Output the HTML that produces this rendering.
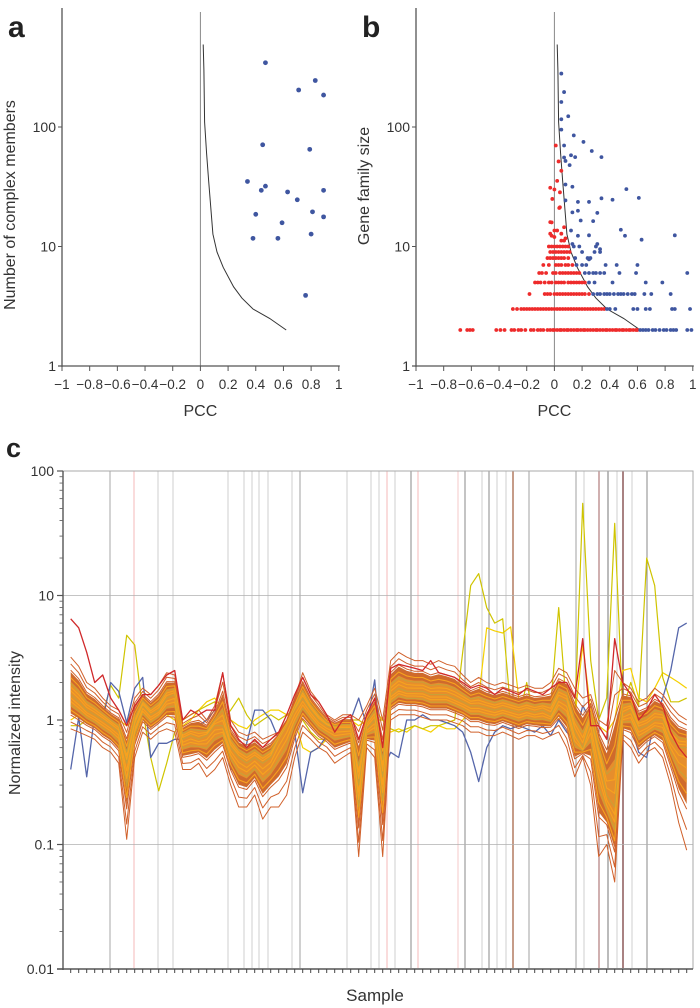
<!DOCTYPE html>
<html><head><meta charset="utf-8">
<style>
html,body{margin:0;padding:0;background:#fff;}
svg{display:block;font-family:"Liberation Sans",Arial,sans-serif;}
</style></head>
<body>
<svg id="fig" width="700" height="1008" viewBox="0 0 700 1008" xmlns="http://www.w3.org/2000/svg">
<g id="pa"></g>
<g id="pb"></g>
<g id="pc"></g>
</svg>
<script>
// ---------- data ----------
const curvePCC=[0.02,0.025,0.03,0.045,0.06,0.09,0.12,0.165,0.24,0.3,0.38,0.5,0.62];
const curveN=[490,300,110,60,35,12.7,9,6.7,4.6,3.7,3.0,2.5,2.0];
const complexPCC=[0.47,0.83,0.71,0.89,0.45,0.79,0.34,0.47,0.44,0.63,0.89,0.70,0.40,0.81,0.89,0.59,0.38,0.56,0.80,0.76];
const complexN=[345,245,204,185,71,65,35,32,29.5,28.6,29.5,24.6,18.6,19.5,17.7,15.8,11.7,11.7,12.7,3.9];
const rowN=[2,3,4,5,6,7,8,9,10];
const row2=[-0.68,-0.63,-0.61,-0.59,-0.42,-0.39,-0.36,-0.31,-0.29,-0.26,-0.24,-0.21,-0.17,-0.15,-0.12,-0.1,-0.08,-0.05,-0.03,-0.01,0.0,0.02,0.04,0.05,0.07,0.09,0.1,0.12,0.14,0.16,0.17,0.19,0.21,0.22,0.24,0.26,0.28,0.3,0.31,0.33,0.35,0.37,0.38,0.4,0.42,0.44,0.45,0.47,0.49,0.5,0.52,0.54,0.55,0.57,0.59,0.6,0.62,0.64,0.66,0.68,0.71,0.73,0.76,0.79,0.81,0.84,0.86,0.88,0.96,0.99];
const row3=[-0.3,-0.27,-0.24,-0.22,-0.2,-0.18,-0.16,-0.14,-0.12,-0.1,-0.08,-0.06,-0.04,-0.02,0,0.02,0.04,0.06,0.08,0.1,0.12,0.14,0.16,0.18,0.2,0.22,0.24,0.26,0.28,0.3,0.32,0.34,0.36,0.38,0.4,0.44,0.57,0.6,0.66,0.69,0.85,0.87,0.98];
const row4=[-0.18,-0.07,-0.05,-0.03,0,0.02,0.04,0.06,0.08,0.1,0.12,0.14,0.16,0.18,0.2,0.22,0.25,0.28,0.31,0.33,0.36,0.38,0.4,0.43,0.46,0.48,0.5,0.53,0.56,0.58,0.65,0.7,0.84];
const row5=[-0.14,-0.12,-0.1,-0.07,-0.04,-0.02,0.01,0.03,0.05,0.07,0.1,0.12,0.14,0.16,0.18,0.2,0.22,0.25,0.29,0.42,0.66,0.78];
const row6=[-0.11,-0.09,-0.06,-0.01,0.01,0.04,0.06,0.08,0.1,0.12,0.14,0.16,0.18,0.22,0.25,0.28,0.3,0.33,0.36,0.47,0.59,0.96];
const row7=[-0.08,-0.04,0.01,0.03,0.05,0.08,0.1,0.13,0.16,0.2,0.23,0.37,0.45,0.6];
const row8=[-0.05,-0.03,-0.01,0.01,0.03,0.05,0.07,0.1,0.15,0.24,0.26];
const row9=[-0.03,-0.01,0.01,0.03,0.05,0.07,0.09,0.11,0.2,0.29,0.33];
const row10=[-0.04,-0.02,0,0.02,0.04,0.06,0.08,0.1,0.14,0.18,0.3];
const famPCC=[-0.02,0,0.05,0.08,0.13,0.17,0.25,0.31,0.33,0.25,0.48,0.51,0.63,0.87,-0.02,0,0.07,0.12,0.19,0.28,0.13,0.17,0.31,0.25,0.04,0.08,0.17,0.34,0.42,0.61,0.52,0,0.04,0.08,0.13,0.02,0.05,0.11,0.08,0.03,0.15,0.07,0.12,0.34,0.27,0.01,0.07,0.21,0.14,0.05,0.1,0.05,0.05,0.07,0.05,-0.03,-0.015,0.035,-0.03,0.02,-0.03,0.05,0.07];
const famN=[12.3,12,11.2,11.7,10.5,12.3,12.4,10.5,9.5,7.8,13.8,12.3,11.4,12.4,15.9,13.6,14.5,13.6,16.5,16.3,19.3,19.9,19.1,23.6,21.3,24.3,23.6,25.3,24.6,25.5,30.2,30,28.4,33,31.6,35.4,43,48,52,51.5,56,55.6,58,56,63,70,70,75,85,95,123,116,162,196,280,31,25,21,16,13.6,12.8,12.8,11.2];
// panel c (78 samples)
const bandMid=[1.6,1.4,1.2,1.1,1.0,0.9,0.8,0.45,0.9,1.3,1.1,1.2,1.5,1.6,0.7,0.75,0.7,0.75,0.9,0.9,0.6,0.5,0.45,0.5,0.45,0.5,0.7,0.9,1.2,1.5,1.2,1.0,0.9,0.85,0.85,0.85,0.3,0.85,1.0,0.35,1.6,1.8,1.7,1.7,1.7,1.6,1.6,1.6,1.5,1.4,1.3,1.3,1.25,1.2,1.25,1.2,1.15,1.2,1.15,1.2,1.1,1.5,1.4,0.8,0.6,1.0,0.5,0.25,0.2,1.1,1.2,0.85,0.9,1.0,1.0,0.7,0.6,0.6];
const bandHigh=[3.2,2.7,2.0,1.8,1.5,1.3,1.2,0.9,1.5,1.8,1.6,1.9,2.4,2.3,1.0,1.1,1.2,1.0,1.3,2.4,1.0,0.8,0.75,0.8,0.7,0.75,0.8,1.0,1.5,2.4,1.7,1.4,1.1,1.0,1.1,1.1,1.0,1.3,1.8,1.0,3.0,3.5,3.2,3.0,3.0,2.8,3.0,2.8,2.7,2.3,2.0,2.2,2.0,1.9,2.0,1.9,1.8,1.9,1.8,1.8,2.0,2.6,2.4,1.8,1.5,1.6,1.0,0.9,2.5,2.0,1.8,1.4,1.5,1.8,1.6,1.3,1.1,1.0];
const bandLow=[0.85,0.8,0.75,0.7,0.6,0.55,0.45,0.11,0.5,0.8,0.7,0.8,0.85,0.8,0.4,0.4,0.45,0.35,0.4,0.5,0.3,0.2,0.2,0.25,0.16,0.2,0.2,0.25,0.5,0.8,0.7,0.6,0.55,0.45,0.5,0.55,0.08,0.6,0.5,0.08,1.0,1.1,1.1,1.1,1.05,1.0,1.0,1.0,0.95,0.9,0.8,0.8,0.75,0.75,0.8,0.75,0.7,0.75,0.75,0.7,0.75,0.8,0.6,0.35,0.5,0.3,0.08,0.1,0.05,0.7,0.6,0.45,0.55,0.6,0.5,0.3,0.15,0.09];
const yellowA=[0.9,0.9,1.0,1.0,1.1,1.9,1.5,4.8,4.0,1.2,0.5,0.27,0.45,0.8,1.0,1.1,1.2,1.3,1.4,1.0,1.2,1.5,1.1,0.9,1.0,1.1,1.0,1.1,1.2,1.0,0.8,0.7,0.7,0.9,1.0,1.0,1.0,0.9,1.0,1.0,0.85,0.8,0.85,0.9,0.85,0.9,0.9,0.95,1.0,3.5,12,15,8,6,6.5,1.2,1.0,2.0,1.0,1.1,1.3,8,1.2,1.0,55,3,1.0,1.5,38,1.2,2,1.3,20,12,2.2,1.4,1.4,1.5];
const yellowB=[1.0,1.1,1.0,1.1,1.2,1.1,1.0,0.9,1.0,1.0,1.0,1.1,1.1,1.0,0.9,1.0,1.2,1.4,1.5,1.2,1.0,0.9,0.85,1.0,1.1,1.2,1.2,1.1,1.0,0.6,0.55,0.6,0.7,0.8,0.9,1.0,0.9,1.0,1.2,1.0,0.8,0.85,0.8,0.9,0.85,0.8,0.9,0.85,0.85,1.0,1.2,1.5,5.5,5.2,5.0,5.6,1.5,1.0,1.0,1.1,1.1,1.0,1.2,1.0,4.0,1.2,0.9,0.8,1.0,2.5,2.6,1.5,1.4,1.8,2.4,2.2,2.0,1.8];
const blueSeries=[0.4,1.05,0.35,1.1,1.0,2.0,1.7,0.95,1.8,2.2,0.5,0.65,0.65,0.7,0.7,0.8,0.9,1.0,1.2,1.15,0.4,0.4,0.65,1.2,1.2,1.0,0.7,0.6,0.8,0.26,0.55,0.6,0.75,0.8,0.7,1.0,1.5,0.9,2.1,0.4,0.55,0.5,1.0,1.0,1.1,1.0,1.0,0.95,0.9,0.8,0.55,0.32,0.6,0.8,0.9,0.85,0.9,0.85,0.8,0.9,0.75,1.0,0.8,0.7,1.3,1.0,0.5,0.3,0.5,1.1,0.9,0.55,0.5,1.0,1.5,2.5,5.5,6.0];
const redSeries=[6.5,5.5,3.5,2.0,2.3,1.5,1.2,0.9,1.3,1.6,1.6,1.9,2.3,2.5,1.0,1.2,1.1,1.2,1.2,2.4,0.9,0.7,0.6,0.7,0.6,0.7,0.8,1.1,1.6,2.2,1.6,1.4,1.1,0.8,1.0,1.1,0.7,1.1,1.5,0.6,2.6,2.8,2.7,2.6,2.5,3.0,2.4,2.3,2.2,2.0,1.8,1.9,1.8,1.6,1.8,1.7,1.6,1.8,1.7,1.6,1.8,2.0,2.0,1.5,4.5,0.9,0.9,0.7,4.5,2.0,1.6,1.0,1.2,1.6,1.3,0.8,0.6,0.5];
const cTicks=[100,10,1,0.1,0.01];
const cTickLabels=["100","10","1","0.1","0.01"];
const pccTicks=[-1,-0.8,-0.6,-0.4,-0.2,0,0.2,0.4,0.6,0.8,1];
const pccTickLabels=["\u22121","\u22120.8","\u22120.6","\u22120.4","\u22120.2","0","0.2","0.4","0.6","0.8","1"];
const nTicks=[1,10,100];

// ---------- helpers ----------
const NS="http://www.w3.org/2000/svg";
function mk(parent,tag,attrs,text){const e=document.createElementNS(NS,tag);for(const k in attrs)e.setAttribute(k,attrs[k]);if(text!==undefined)e.textContent=text;parent.appendChild(e);return e;}
const L=Math.log10;

// ---------- panels a & b ----------
function scatterPanel(g,x0,letter,ylab,ylabY){
  const X=p=>x0+138.4*(p+1);
  const Y=n=>366-L(n)*119.5;
  let t=mk(g,'text',{x:x0-54,y:37,'font-size':30,'font-weight':'bold',fill:'#222'},letter);
  
  
  let zl=mk(g,'line',{x1:X(0),x2:X(0),y1:12,y2:366,stroke:'#888','stroke-width':1});
  
  
  let ya=mk(g,'line',{x1:x0,x2:x0,y1:8,y2:367,stroke:'#555','stroke-width':1.3});
  
  
  let xa=mk(g,'line',{x1:x0-4,x2:X(1)+1,y1:366,y2:366,stroke:'#555','stroke-width':1.3});
  
  
  nTicks.forEach(n=>{
    let tk=mk(g,'line',{x1:x0-4,x2:x0,y1:Y(n),y2:Y(n),stroke:'#555'});
    
    
    let tl=mk(g,'text',{x:x0-6,y:Y(n)+5,'font-size':14,'text-anchor':'end',fill:'#333'},String(n));
    
    
  });
  pccTicks.forEach((p,i)=>{
    let tk=mk(g,'line',{x1:X(p),x2:X(p),y1:366,y2:371,stroke:'#555'});
    
    
    let tl=mk(g,'text',{x:X(p),y:389,'font-size':13.5,'text-anchor':'middle',fill:'#333'},pccTickLabels[i]);
    
    
  });
  let xt=mk(g,'text',{x:X(0),y:416,'font-size':16,'text-anchor':'middle',fill:'#333'},'PCC');
  
  
  let yt=mk(g,'text',{x:0,y:0,'font-size':16,'text-anchor':'middle',fill:'#333',transform:`translate(${x0-47},${ylabY}) rotate(-90)`},ylab);
  
  
  let d='';
  curvePCC.forEach((p,i)=>{d+=(i?'L':'M')+X(p).toFixed(1)+','+Y(curveN[i]).toFixed(1);});
  let cv=mk(g,'path',{d:d,fill:'none',stroke:'#333','stroke-width':1});
  
  
  return {X,Y};
}
function threshold(n){
  const ln=L(n);
  for(let i=0;i<curveN.length-1;i++){
    const a=L(curveN[i]),b=L(curveN[i+1]);
    if(ln<=a&&ln>=b){return curvePCC[i]+(curvePCC[i+1]-curvePCC[i])*(a-ln)/(a-b);}
  }
  return ln>L(curveN[0])?curvePCC[0]:curvePCC[curvePCC.length-1];
}
const A=scatterPanel(document.getElementById('pa'),62,'a','Number of complex members',205);
complexPCC.forEach((p,i)=>{
  let c=mk(document.getElementById('pa'),'circle',{cx:A.X(p),cy:A.Y(complexN[i]),r:2.4,fill:'#3f56a0'});
  
  
});
const B=scatterPanel(document.getElementById('pb'),416,'b','Gene family size',186);
const rows=[row2,row3,row4,row5,row6,row7,row8,row9,row10];
const gb=document.getElementById('pb');
function famDot(p,n){
  const red=p<threshold(n);
  let c=mk(gb,'circle',{cx:B.X(p),cy:B.Y(n),r:1.9,fill:red?'#ee2b2b':'#3f56a0'});
  
  
}
rows.forEach((r,k)=>r.forEach(p=>famDot(p,rowN[k])));
famPCC.forEach((p,i)=>famDot(p,famN[i]));

// ---------- panel c ----------
const gc=document.getElementById('pc');
const CX=i=>70.7+8*i;
const CY=v=>969-(L(v)+2)*124.5;
let lc=mk(gc,'text',{x:6,y:457,'font-size':27,'font-weight':'bold',fill:'#222'},'c');


const vlines=[[110,'#c8c8c8',1.6],[134,'#f4b8b8',1],[158,'#cfcfcf',1],[173,'#cfcfcf',1],[228,'#cfcfcf',1],[244,'#cfcfcf',1],[252,'#cfcfcf',1],[259,'#cfcfcf',1],[268,'#cfcfcf',1],[292,'#cfcfcf',1],[300,'#c4c4c4',1.6],[347,'#cfcfcf',1],[371,'#cfcfcf',1],[379,'#cfcfcf',1],[387,'#f4b8b8',1],[395,'#cfcfcf',1],[411,'#888',1],[418,'#f4b8b8',1],[458,'#f4c8c8',1],[465,'#888',1],[482,'#cfcfcf',1],[489,'#888',1],[497,'#cfcfcf',1],[506,'#cfcfcf',1],[513,'#a05a3a',1.2],[529,'#c4c4c4',1.6],[576,'#c4c4c4',1.6],[584,'#cfcfcf',1],[599,'#a06060',1],[608,'#777',1],[617,'#cfcfcf',1],[623,'#703030',1.2],[632,'#cfcfcf',1],[647,'#888',1]];
vlines.forEach(v=>{
  let l=mk(gc,'line',{x1:v[0],x2:v[0],y1:471,y2:968,stroke:v[1],'stroke-width':v[2]});
  
  
});
[10,0.1].forEach(v=>{
  let l=mk(gc,'line',{x1:63,x2:693,y1:CY(v),y2:CY(v),stroke:'#b0b0b0','stroke-width':0.8});
  
  
});
let box=mk(gc,'path',{d:'M63,471 H693 V969',fill:'none',stroke:'#aaa','stroke-width':1});


function poly(arr){return arr.map((v,i)=>CX(i).toFixed(1)+','+CY(v).toFixed(1)).join(' ');}
function bandAt(f){return bandMid.map((m,i)=>{const lm=L(m);const o=f<0?lm+(lm-L(bandLow[i]))*f:lm+(L(bandHigh[i])-lm)*f;return Math.pow(10,o);});}
function drawLine(arr,color,w,name){
  let p=mk(gc,'polyline',{points:poly(arr),fill:'none',stroke:color,'stroke-width':w,'stroke-linejoin':'round'});
  
  
}
drawLine(yellowB,'#f5d000',1.2,'series-yellow-b');
drawLine(yellowA,'#cfc400',1.2,'series-yellow-a');
drawLine(blueSeries,'#5566aa',1.3,'series-blue');
function fillBetween(f1,f2,color,name){
  const a=bandAt(f1),b=bandAt(f2);
  const pts=poly(a)+' '+b.map((v,i)=>[CX(i),CY(v)]).reverse().map(q=>q[0].toFixed(1)+','+q[1].toFixed(1)).join(' ');
  let p=mk(gc,'polygon',{points:pts,fill:color});
  
  
}
fillBetween(-0.55,0.6,'#cf6a2c','band-outer');
const fracs=[-1,-0.8,-0.6,0.65,0.82,1];
fracs.forEach(f=>drawLine(bandAt(f),'#d0602a',1.0,'band-line-outer'));
fillBetween(-0.35,0.35,'#e68e2c','band-core');
const innerFracs=[-0.45,-0.3,-0.2,-0.1,0,0.1,0.2,0.3,0.45];
innerFracs.forEach((f,k)=>drawLine(bandAt(f),k%3===1?'#c8a038':'#f7a21f',1.1,'band-line-inner'));
drawLine(redSeries,'#d0282a',1.3,'series-red');
let yax=mk(gc,'line',{x1:63,x2:63,y1:471,y2:970,stroke:'#555','stroke-width':1.4});


let xax=mk(gc,'line',{x1:57,x2:693,y1:969,y2:969,stroke:'#555','stroke-width':1.4});


cTicks.forEach((v,i)=>{
  let tk=mk(gc,'line',{x1:57,x2:63,y1:CY(v),y2:CY(v),stroke:'#555','stroke-width':1.2});
  
  
  let tl=mk(gc,'text',{x:54,y:CY(v)+5,'font-size':14,'text-anchor':'end',fill:'#333'},cTickLabels[i]);
  
  
  if(v>0.01){for(let k=2;k<=9;k++){
    let m=mk(gc,'line',{x1:59.5,x2:63,y1:CY(v/10*k),y2:CY(v/10*k),stroke:'#666','stroke-width':0.9});
    
    
  }}
});
bandMid.forEach((m,i)=>{
  let tk=mk(gc,'line',{x1:CX(i),x2:CX(i),y1:969,y2:973,stroke:'#444','stroke-width':1});
  
  
});
let st=mk(gc,'text',{x:375,y:1001,'font-size':17,'text-anchor':'middle',fill:'#333'},'Sample');


let yt=mk(gc,'text',{x:0,y:0,'font-size':16,'text-anchor':'middle',fill:'#333',transform:'translate(20,723) rotate(-90)'},'Normalized intensity');


</script>
</body></html>
